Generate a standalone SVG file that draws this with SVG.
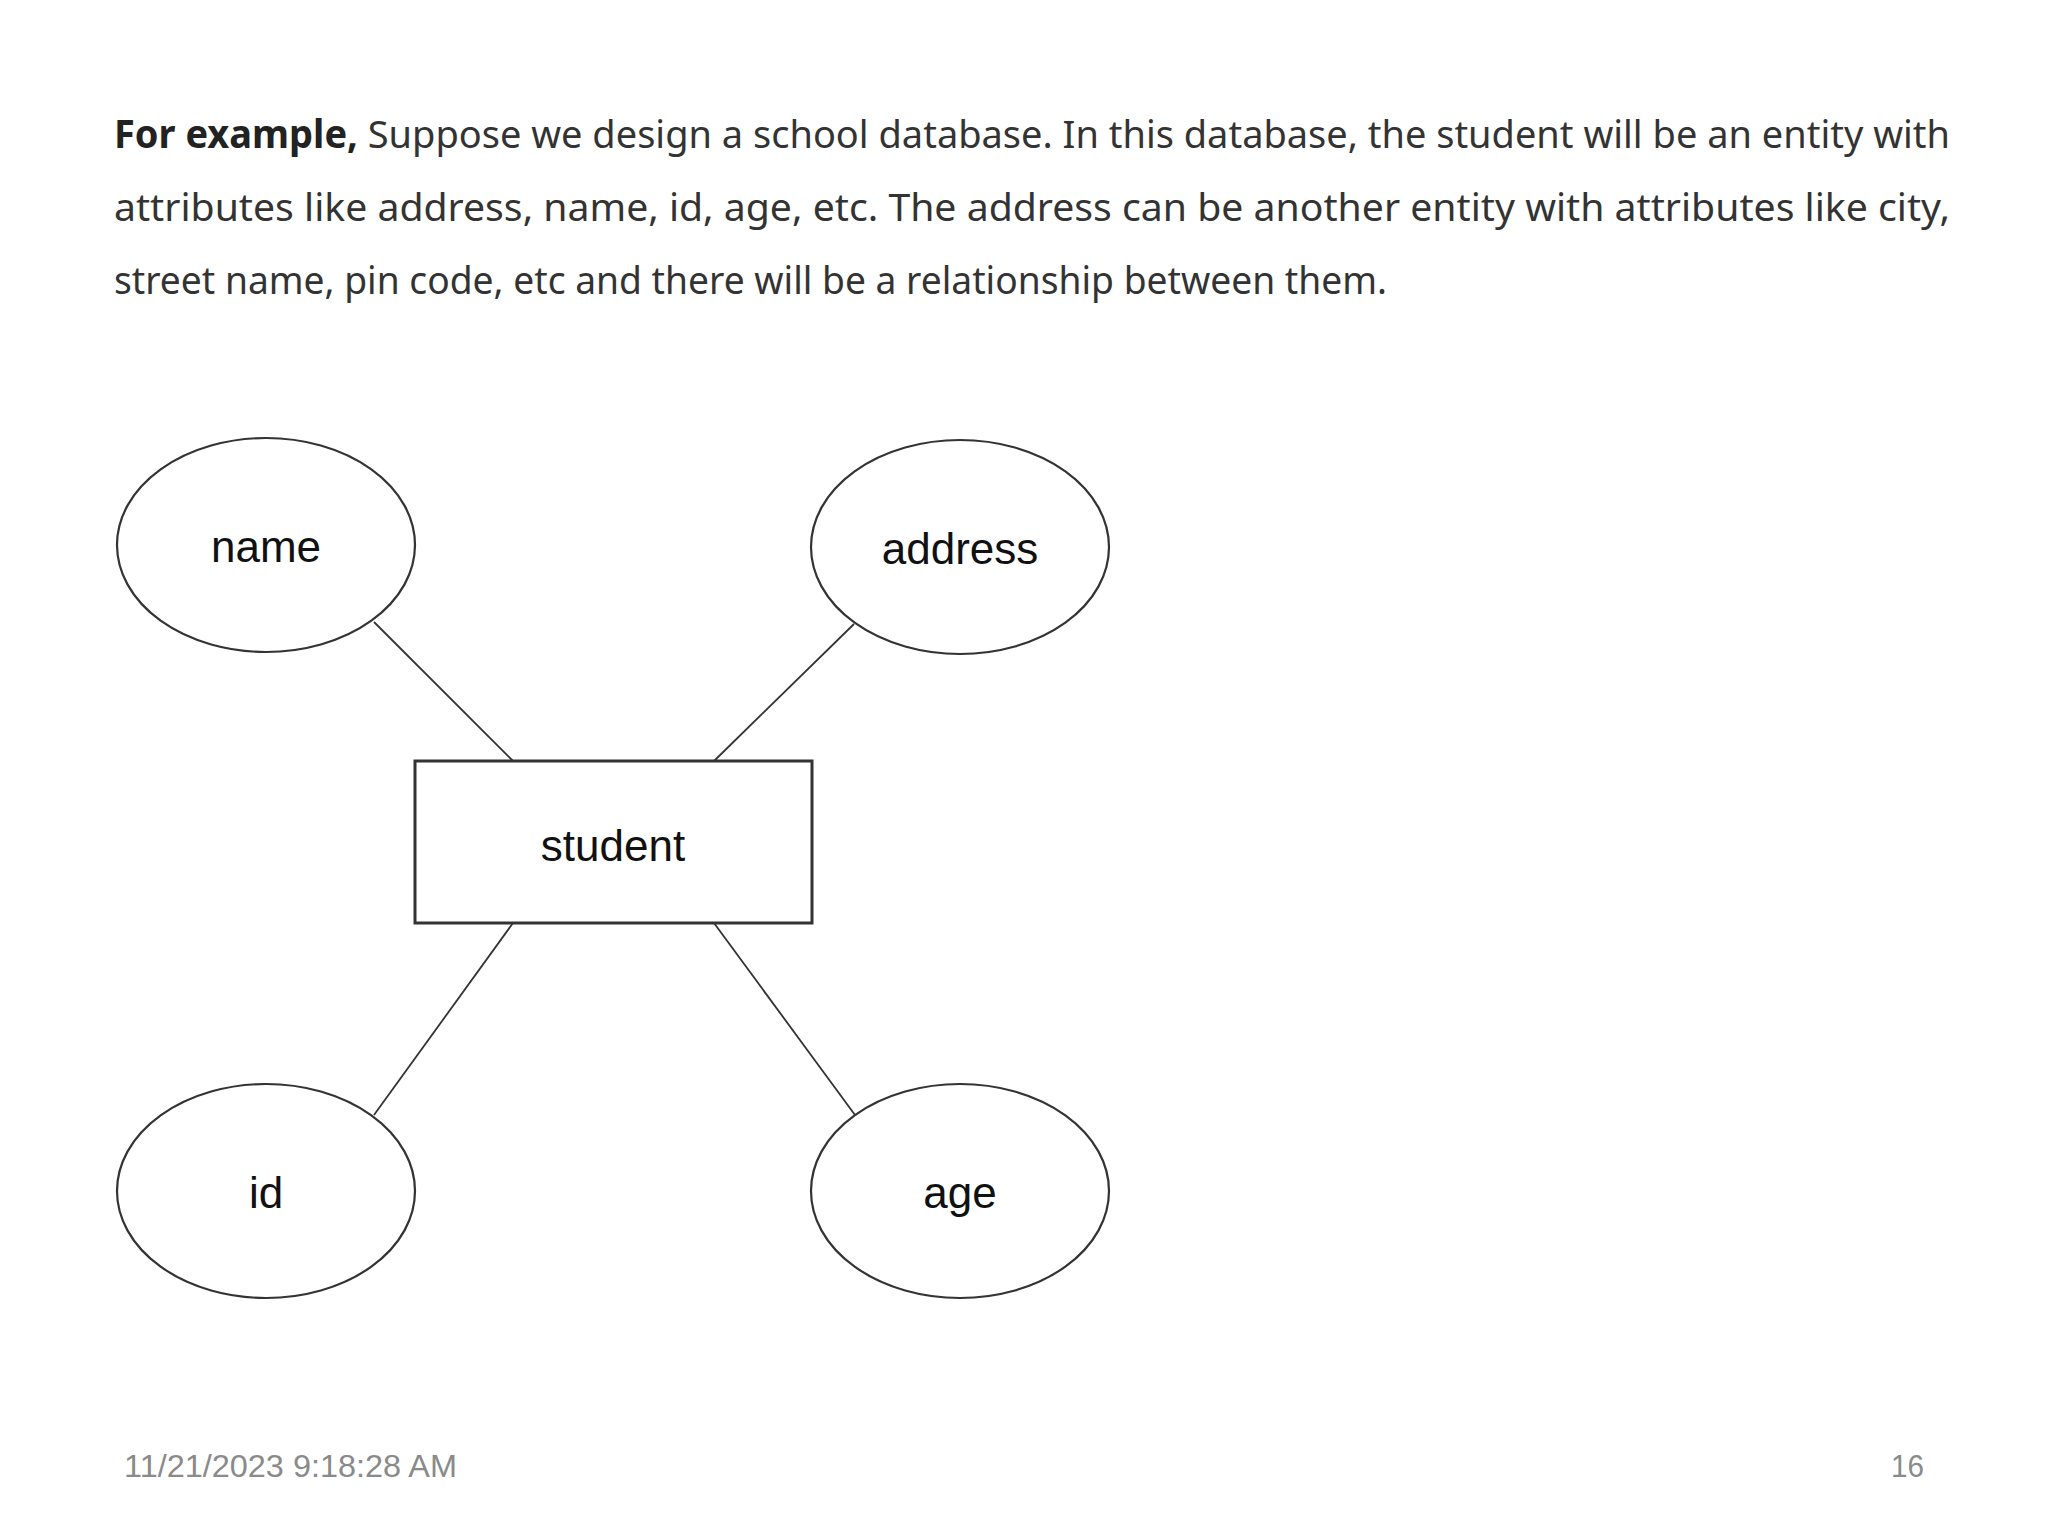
<svg xmlns="http://www.w3.org/2000/svg" width="2048" height="1536" viewBox="0 0 2048 1536">
<style>
.para{font-family:"Noto Sans","Open Sans","DejaVu Sans",sans-serif;font-size:39px;fill:#333}
.b{font-weight:bold;fill:#222}
.attr{fill:#fff;stroke:#333;stroke-width:2.2}
.ent{fill:#fff;stroke:#333;stroke-width:3}
.lbl{font-family:"Liberation Sans",Arial,sans-serif;font-size:44px;fill:#111;text-anchor:middle}
.foot{font-family:"Liberation Sans",Arial,sans-serif;font-size:31px;fill:#8a8a8a}
#connectors line{stroke:#333;stroke-width:1.8}
</style>
<rect width="2048" height="1536" fill="#fff"/>
<text class="para" x="114" y="148" textLength="1836" lengthAdjust="spacingAndGlyphs"><tspan class="b">For example,</tspan> Suppose we design a school database. In this database, the student will be an entity with</text>
<text class="para" x="114" y="221" textLength="1836" lengthAdjust="spacingAndGlyphs">attributes  like  address,  name,  id,  age,  etc.  The  address  can  be  another  entity  with  attributes  like  city,</text>
<text class="para" x="114" y="294" textLength="1273" lengthAdjust="spacingAndGlyphs">street name, pin code, etc and there will be a relationship between them.</text>
<g id="connectors">
<line x1="374" y1="622" x2="513" y2="761"/>
<line x1="854" y1="624" x2="714" y2="761"/>
<line x1="513" y1="923" x2="374" y2="1115"/>
<line x1="714" y1="923" x2="855" y2="1115"/>
</g>
<g id="name"><ellipse class="attr" cx="266" cy="545" rx="149" ry="107"/><text class="lbl" x="266" y="562">name</text></g>
<g id="address"><ellipse class="attr" cx="960" cy="547" rx="149" ry="107"/><text class="lbl" x="960" y="564">address</text></g>
<g id="student"><rect class="ent" x="415" y="761" width="397" height="162"/><text class="lbl" x="613" y="861">student</text></g>
<g id="id"><ellipse class="attr" cx="266" cy="1191" rx="149" ry="107"/><text class="lbl" x="266" y="1208">id</text></g>
<g id="age"><ellipse class="attr" cx="960" cy="1191" rx="149" ry="107"/><text class="lbl" x="960" y="1208">age</text></g>
<text class="foot" x="124" y="1477" textLength="333" lengthAdjust="spacingAndGlyphs">11/21/2023 9:18:28 AM</text>
<text class="foot" x="1891" y="1477" textLength="33" lengthAdjust="spacingAndGlyphs">16</text>
</svg>
